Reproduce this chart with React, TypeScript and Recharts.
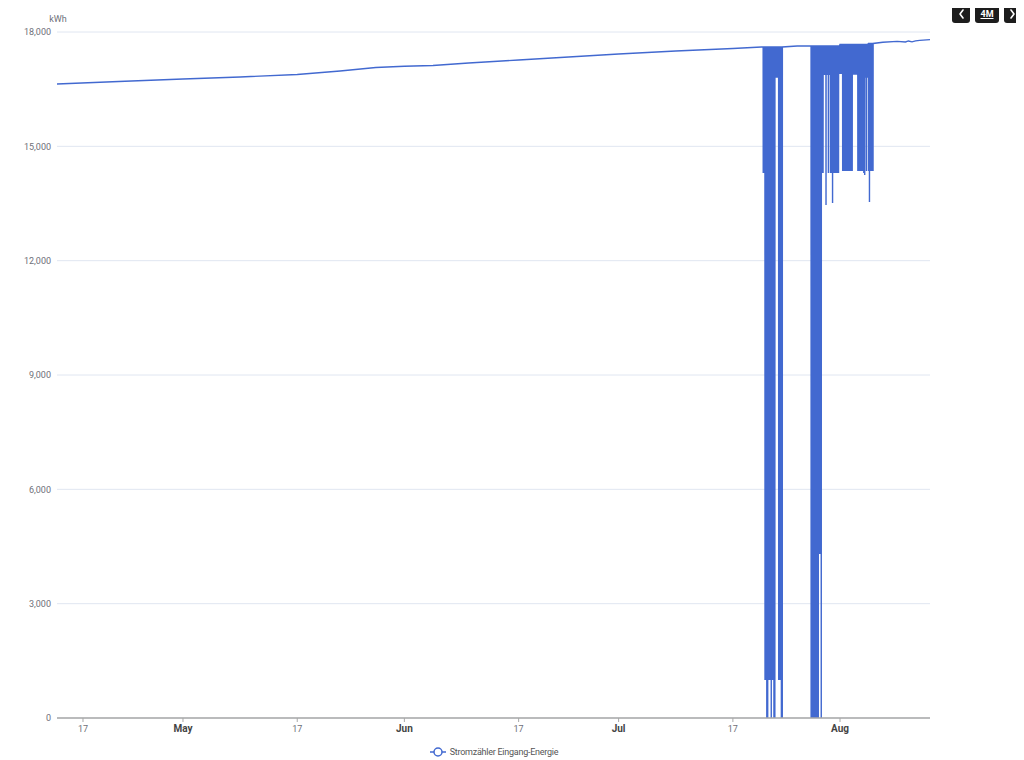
import { CartesianGrid, Legend, Line, LineChart, XAxis, YAxis } from 'recharts';

// meter reading, sampled along the slow upward trend
const baseTimes = [
  '2025-04-13T08:40Z', '2025-04-22T00:00Z', '2025-05-01T00:00Z', '2025-05-09T00:00Z',
  '2025-05-17T00:00Z', '2025-05-23T00:00Z', '2025-05-28T00:00Z', '2025-06-01T00:00Z',
  '2025-06-05T00:00Z', '2025-06-10T00:00Z', '2025-06-17T00:00Z', '2025-06-24T00:00Z',
  '2025-07-01T00:00Z', '2025-07-09T00:00Z', '2025-07-17T00:00Z', '2025-07-21T00:00Z',
  '2025-07-26T00:00Z', '2025-08-01T00:00Z', '2025-08-05T00:00Z', '2025-08-07T00:00Z',
  '2025-08-09T00:00Z', '2025-08-10T04:00Z', '2025-08-10T14:00Z', '2025-08-11T02:00Z',
  '2025-08-11T14:00Z', '2025-08-12T04:00Z', '2025-08-13T14:25Z',
];
const baseValues = [
  16636, 16702, 16768, 16820,
  16886, 16975, 17070, 17100,
  17121, 17187, 17266, 17345,
  17423, 17502, 17568, 17607,
  17633, 17673, 17699, 17730,
  17755, 17738, 17765, 17742,
  17768, 17780, 17800,
];

// bad readings: hours after DROP_BASE and the value the meter reported
const DROP_BASE = '2025-07-21T05:00Z';
const dropHours = [
  1, 4, 7, 10, 13, 16, 19, 22, 25, 28, 31, 34, 37, 40, 43, 46, 50, 53, 56, 59, 62, 65,
  162, 166, 170, 174, 178, 182, 186, 190, 193, 196,
  199, 202, 205, 209, 212, 216, 220, 224,
  227, 231, 234, 238, 242, 246, 250, 254,
  257, 261, 264, 268, 272, 276, 280, 284, 288, 292, 296, 300,
  304, 308, 312, 316,
  319, 323, 327, 331, 335, 339, 342, 345, 348, 351, 355, 358, 362, 366, 370,
];
const dropValues = [
  14300, 14300, 1000, 1000, 0, 0, 1000, 1000, 1000, 0, 1000, 1000, 0, 0, 16800, 16800, 16800, 1000, 1000, 1000, 0, 0,
  0, 0, 0, 0, 0, 0, 0, 4300, 4300, 0,
  14300, 14300, 16870, 16870, 13460, 16870, 14300, 16870,
  14300, 14300, 13510, 14300, 14300, 14300, 14300, 14300,
  16900, 16900, 16900, 14350, 14350, 14350, 14350, 14350, 14350, 14350, 14350, 14350,
  16880, 16880, 16880, 16880,
  14350, 14350, 14350, 14350, 14350, 14300, 14250, 16800, 14350, 16800, 14350, 13540, 14350, 14350, 14350,
];

const xTickDates = ['2025-04-17', '2025-05-01', '2025-05-17', '2025-06-01', '2025-06-17', '2025-07-01', '2025-07-17', '2025-08-01'];
const xTickLabels = ['17', 'May', '17', 'Jun', '17', 'Jul', '17', 'Aug'];
const yTicks = [0, 3000, 6000, 9000, 12000, 15000, 18000];
const xDomain = ['2025-04-13T08:40Z', '2025-08-13T14:25Z'];

const SERIES = 'Stromzähler Eingang-Energie';
const BLUE = '#4269d0';
const HOUR = 3600000;
const FONT = 'Roboto, "Noto Sans", sans-serif';

const base = baseTimes.map((s, i) => ({ t: Date.parse(s), v: baseValues[i] }));
const topAt = (t: number) => {
  let v = base[0].v;
  for (const p of base) if (p.t <= t) v = p.v;
  return v;
};
const drops = dropHours.flatMap((h, i) => {
  const t = Date.parse(DROP_BASE) + h * HOUR;
  const top = topAt(t);
  return [
    { t: t - 0.3 * HOUR, v: top },
    { t, v: dropValues[i] },
    { t: t + 0.3 * HOUR, v: top },
  ];
});
const data = [...base, ...drops].sort((a, b) => a.t - b.t);

const tickTimes = xTickDates.map((d) => Date.parse(d + 'T00:00Z'));

function XTick(props: any) {
  const { x, y, payload } = props;
  const label = xTickLabels[tickTimes.indexOf(payload.value)];
  const isMonth = isNaN(Number(label));
  return (
    <text
      x={x}
      y={y}
      dy={10}
      textAnchor="middle"
      fontSize={isMonth ? 10 : 9}
      fontFamily={FONT}
      fill={isMonth ? '#444' : '#6e7079'}
      fontWeight={isMonth ? 700 : 400}
    >
      {label}
    </text>
  );
}

function LegendRow() {
  return (
    <div
      style={{
        height: 24,
        boxSizing: 'border-box',
        paddingTop: 8,
        paddingRight: 36,
        display: 'flex',
        justifyContent: 'center',
        alignItems: 'center',
        fontFamily: FONT,
        fontSize: 9,
        letterSpacing: -0.25,
        color: '#555',
        lineHeight: '16px',
      }}
    >
      <svg width={16} height={12} style={{ marginRight: 4 }}>
        <line x1={0} y1={6} x2={16} y2={6} stroke={BLUE} strokeWidth={1.5} />
        <circle cx={8} cy={6} r={4} fill="#fff" stroke={BLUE} strokeWidth={1.5} />
      </svg>
      <span>{SERIES}</span>
    </div>
  );
}

function Chevron({ dir }: { dir: 'left' | 'right' }) {
  const pts = dir === 'left' ? '6,2 3,6 6,10' : '3,2 6,6 3,10';
  return (
    <svg width={9} height={12}>
      <polyline points={pts} fill="none" stroke="#fff" strokeWidth={1.6} strokeLinecap="round" strokeLinejoin="round" />
    </svg>
  );
}

function NavButton({ width, children }: { width: number; children: any }) {
  return (
    <div
      style={{
        width,
        height: 18,
        background: '#1d1d1d',
        borderRadius: 3,
        color: '#fff',
        fontFamily: FONT,
        fontSize: 9,
        fontWeight: 700,
        display: 'flex',
        alignItems: 'center',
        justifyContent: 'center',
      }}
    >
      {children}
    </div>
  );
}

export default function App() {
  return (
    <div style={{ position: 'relative', width: 1008, height: 752 }}>
      <div style={{ position: 'absolute', left: 944, top: -3, display: 'flex', gap: 5 }}>
        <NavButton width={18}>
          <Chevron dir="left" />
        </NavButton>
        <NavButton width={24}>
          <span style={{ textDecoration: 'underline' }}>4M</span>
        </NavButton>
        <NavButton width={17}>
          <Chevron dir="right" />
        </NavButton>
      </div>
      <LineChart width={1008} height={752} data={data} margin={{ top: 24, right: 86, left: 0, bottom: 0 }}>
        <CartesianGrid vertical={false} stroke="#e0e6f1" />
        <XAxis
          dataKey="t"
          type="number"
          scale="time"
          domain={xDomain.map((d) => Date.parse(d))}
          allowDataOverflow
          ticks={tickTimes}
          interval={0}
          tick={<XTick />}
          height={18}
          tickSize={4}
          tickMargin={0}
          axisLine={{ stroke: '#a8a8a8', strokeWidth: 1.5 }}
          tickLine={{ stroke: '#a8a8a8' }}
        />
        <YAxis
          dataKey="v"
          domain={[0, 18000]}
          ticks={yTicks}
          width={49}
          axisLine={false}
          tickLine={false}
          tickMargin={0}
          tick={{ fontSize: 9, fill: '#6e7079', fontFamily: FONT }}
          tickFormatter={(v: number) => v.toLocaleString('en-US')}
          label={{
            content: (p: any) => (
              <text
                x={p.viewBox.x + p.viewBox.width + 1}
                y={p.viewBox.y - 10}
                textAnchor="middle"
                fontSize={9}
                fontFamily={FONT}
                fill="#6e7079"
              >
                kWh
              </text>
            ),
          }}
        />
        <Legend
          verticalAlign="bottom"
          height={24}
          wrapperStyle={{ left: 0, width: 1008 }}
          content={() => <LegendRow />}
        />
        <Line
          type="linear"
          dataKey="v"
          name={SERIES}
          stroke={BLUE}
          strokeWidth={1.4}
          dot={false}
          isAnimationActive={false}
        />
      </LineChart>
    </div>
  );
}
